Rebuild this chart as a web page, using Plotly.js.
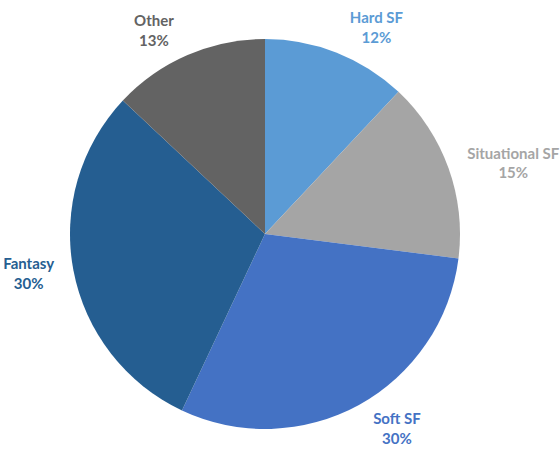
<!DOCTYPE html>
<html>
<head>
<meta charset="utf-8">
<script src="https://cdn.plot.ly/plotly-3.0.1.min.js"></script>
<style>
html, body { margin: 0; padding: 0; background: #fff; }
#plot { width: 560px; height: 470px; }
</style>
</head>
<body>
<div id="plot"></div>
<script>
// genre shares, clockwise from 12 o'clock
var genres = ['Hard SF', 'Situational SF', 'Soft SF', 'Fantasy', 'Other'];
var shares = [12, 15, 30, 30, 13];
var sliceColors = ['#5B9BD5', '#A5A5A5', '#4472C4', '#255E91', '#636363'];

var W = 560, H = 470;
// pie centre and radius in pixels, labels sit on a slightly bigger invisible ring
var cx = 265, cy = 234, r = 195, rLabel = 205;

function dom(rad) {
    return {
        x: [(cx - rad) / W, (cx + rad) / W],
        y: [(H - cy - rad) / H, (H - cy + rad) / H]
    };
}

var plotlyData = [{
    type: 'pie',
    labels: genres,
    values: shares,
    sort: false,
    direction: 'clockwise',
    rotation: 0,
    marker: { colors: sliceColors, line: { width: 0 } },
    textinfo: 'none',
    hoverinfo: 'none',
    domain: dom(r)
}, {
    // invisible ring only carrying the outside labels
    type: 'pie',
    labels: genres,
    values: shares,
    sort: false,
    direction: 'clockwise',
    rotation: 0,
    marker: { colors: genres.map(function () { return 'rgba(0,0,0,0)'; }), line: { width: 0 } },
    textposition: 'outside',
    texttemplate: '<b>%{label}</b><br><b>%{percent:.0%}</b>',
    outsidetextfont: { family: 'Lato, "Open Sans", sans-serif', size: 15, color: sliceColors },
    hoverinfo: 'none',
    domain: dom(rLabel)
}];

var layout = {
    width: W,
    height: H,
    showlegend: false,
    margin: { l: 0, r: 0, t: 0, b: 0 },
    paper_bgcolor: '#fff'
};

Plotly.newPlot(document.getElementById('plot'), plotlyData, layout, { displayModeBar: false, staticPlot: true });
</script>
</body>
</html>
